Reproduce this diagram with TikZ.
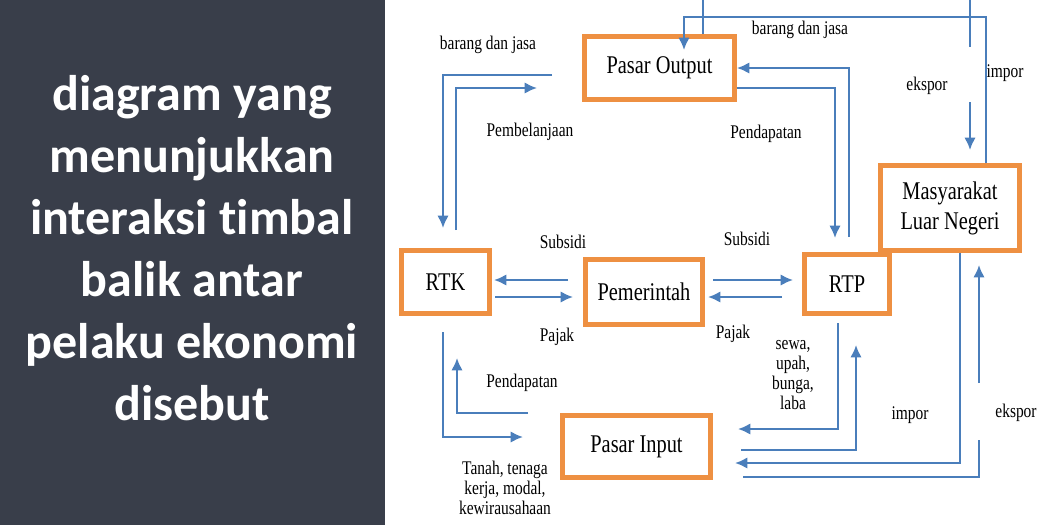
\documentclass[tikz,border=0pt]{standalone}
\usepackage{fontspec}
\setmainfont{Liberation Serif}[FakeStretch=0.8]
\newfontfamily\titlefont{Carlito}[Ligatures=NoCommon]
\usetikzlibrary{arrows.meta, positioning}

\definecolor{panel}{HTML}{393E4A}
\definecolor{boxorange}{HTML}{EE9042}
\definecolor{flowblue}{HTML}{4A7EBB}

\begin{document}
\begin{tikzpicture}[x=0.02cm, y=-0.02cm, >={Latex[length=7pt,width=6.5pt]},
    box/.style={draw=boxorange, line width=2.8pt, rectangle, inner sep=0pt, align=center, font=\fontsize{14.5}{17}\selectfont},
    lbl/.style={inner sep=0pt, align=center, font=\fontsize{11}{11.3}\selectfont},
    flow/.style={draw=flowblue, line width=1.25pt}]

    \path[use as bounding box] (0,0) rectangle (1050,525);
    \clip (0,0) rectangle (1050,525);

    % Left panel
    \fill[panel] (0,0) rectangle (385,525);
    \node (title) [text=white, align=center, font=\titlefont\bfseries\fontsize{28.5}{35.2}\selectfont] at (192,248) {diagram yang\\menunjukkan\\interaksi timbal\\balik antar\\pelaku ekonomi\\disebut};

    % Define nodes
    \node (po) [box, minimum width=3cm, minimum height=1.26cm] at (659.5,68) {Pasar Output};
    \node (mln) [box, minimum width=2.78cm, minimum height=1.7cm] at (950,208) {Masyarakat\\Luar Negeri};
    \node (rtk) [box, minimum width=1.76cm, minimum height=1.26cm] at (445.5,282) {RTK};
    \node (pem) [box, minimum width=2.34cm, minimum height=1.3cm] at (644,292) {Pemerintah};
    \node (rtp) [box, minimum width=1.7cm, minimum height=1.18cm] at (847,284) {RTP};
    \node (pi) [box, minimum width=2.96cm, minimum height=1.24cm] at (636.5,446.5) {Pasar Input};

    % Draw arrows
    \draw[flow,->] (po.north -| 703,0) -- (703,-10) -- (970,-10) -- (970,47) (970,102) -- (970,150);
    \draw[flow,->] (mln.north -| 986,0) -- (986,17) -- (684,17) -- (684,50);
    \draw[flow,->] (849,237) |- (po.east);
    \draw[flow,->] (po.east |- 0,88) -| (835,238);
    \draw[flow,->] (552,75) -| (443,228);
    \draw[flow,->] (456,230) |- (537,88);

    \draw[flow,->] (568,280) -- (494,280);
    \draw[flow,->] (495,297) -- (573,297);
    \draw[flow,->] (713,280) -- (793,280);
    \draw[flow,->] (782,297) -- (708,297);

    \draw[flow,->] (443,332) |- (523,437);
    \draw[flow,->] (528,413) -| (457,358);
    \draw[flow,->] (838,323) |- (738,429);
    \draw[flow,->] (741,450) -| (856,345);
    \draw[flow,->] (mln.south -| 960,0) |- (735,463);
    \draw[flow,->] (743,477) -| (979,440) (979,383) -- (979,265);

    % Labels
    \node (bj1) [lbl] at (488,45) {barang dan jasa};
    \node (bel) [lbl] at (530,132) {Pembelanjaan};
    \node (bj2) [lbl] at (800,30) {barang dan jasa};
    \node (pd1) [lbl] at (766,134) {Pendapatan};
    \node (ek1) [lbl] at (927,86) {ekspor};
    \node (im1) [lbl] at (1005,73) {impor};
    \node (sb1) [lbl] at (563,242) {Subsidi};
    \node (sb2) [lbl] at (747,239) {Subsidi};
    \node (pj1) [lbl] at (557,337) {Pajak};
    \node (pj2) [lbl] at (733,334) {Pajak};
    \node (pd2) [lbl] at (522,383) {Pendapatan};
    \node (fak) [lbl] at (505,488) {Tanah, tenaga\\kerja, modal,\\kewirausahaan};
    \node (bal) [lbl] at (793,375) {sewa,\\upah,\\bunga,\\laba};
    \node (im2) [lbl] at (910,415) {impor};
    \node (ek2) [lbl] at (1016,413) {ekspor};

\end{tikzpicture}
\end{document}
